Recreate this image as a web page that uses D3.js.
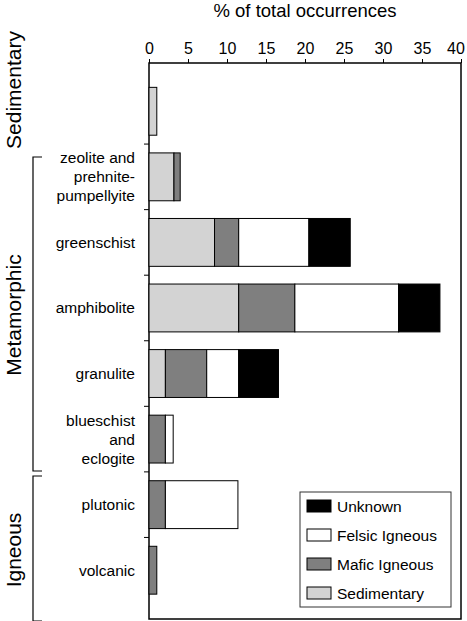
<!DOCTYPE html><html><head><meta charset="utf-8"><script src="https://d3js.org/d3.v7.min.js"></script>
<style>body{margin:0;background:#fff}text{font-family:Arial,"Liberation Sans",sans-serif}</style></head><body><svg id="c" width="467" height="621"></svg><script>
const categories=["sedimentary","zeolite and|prehnite-|pumpellyite","greenschist","amphibolite","granulite","blueschist|and|eclogite","plutonic","volcanic"];
const series=["Sedimentary","Mafic Igneous","Felsic Igneous","Unknown"];
const sedimentary=[1.0,3.2,8.4,11.5,2.1,0,0,0];
const mafic=[0,0.8,3.1,7.2,5.3,2.1,2.1,1.0];
const felsic=[0,0,9.0,13.3,4.1,1.0,9.3,0];
const unknown=[0,0,5.3,5.3,5.1,0,0,0];
const ticks=[0,5,10,15,20,25,30,35,40];
const colors=["#d3d3d3","#7f7f7f","#ffffff","#000000"];
const svg=d3.select("#c");
const x=d3.scaleLinear().domain([0,40]).range([149,461]);
const y=d3.scaleBand().domain(categories).range([78.5,603]).paddingInner(0.27).paddingOuter(0.135);
const vals=[sedimentary,mafic,felsic,unknown];
svg.append("rect").attr("x",149).attr("y",63).attr("width",312).attr("height",556).attr("fill","none").attr("stroke","#000").attr("stroke-width",1.5);
const ax=svg.append("g").attr("transform","translate(0,63)").call(d3.axisTop(x).tickValues(ticks).tickSize(4).tickSizeOuter(0));
ax.select(".domain").remove();
ax.selectAll("text").attr("font-size",16).attr("dy","-0.1em");
ax.selectAll(".tick").filter(d=>d===40).select("text").attr("dx","-0.35em");
svg.append("text").attr("x",305).attr("y",17).attr("text-anchor","middle").attr("font-size",18.5).text("% of total occurrences");
categories.forEach((c,i)=>{if(i>0){const yy=y(c)-y.step()*y.paddingInner()/2;svg.append("line").attr("x1",144).attr("x2",149).attr("y1",yy).attr("y2",yy).attr("stroke","#000");}});
categories.forEach((c,i)=>{let x0=0;vals.forEach((v,s)=>{if(v[i]>0){svg.append("rect").attr("x",x(x0)).attr("y",y(c)).attr("width",x(x0+v[i])-x(x0)).attr("height",y.bandwidth()).attr("fill",colors[s]).attr("stroke","#000").attr("stroke-width",1);x0+=v[i];}});
 if(i>0){const lines=c.split("|");const cy=y(c)+y.bandwidth()/2;const t=svg.append("text").attr("text-anchor","end").attr("font-size",15.5);lines.forEach((l,k)=>t.append("tspan").attr("x",135).attr("y",cy+(k-(lines.length-1)/2)*19+5.5).text(l));}
});
function bracket(y1,y2){svg.append("path").attr("d",`M42,${y1}H33V${y2}H42`).attr("fill","none").attr("stroke","#000").attr("stroke-width",1.2);}
bracket(157,471);bracket(476,621);
function vlabel(t,cy){svg.append("text").attr("transform",`translate(21,${cy}) rotate(-90)`).attr("text-anchor","middle").attr("font-size",21).text(t);}
vlabel("Sedimentary",90);vlabel("Metamorphic",315);vlabel("Igneous",550);
const lg=svg.append("g");
lg.append("rect").attr("x",300).attr("y",492).attr("width",151).attr("height",115).attr("fill","#fff").attr("stroke","#333").attr("stroke-width",1);
const legendOrder=[3,2,1,0];
legendOrder.forEach((s,k)=>{const cy=506+k*29;lg.append("rect").attr("x",307).attr("y",cy-6).attr("width",24).attr("height",12).attr("fill",colors[s]).attr("stroke","#000");
lg.append("text").attr("x",337).attr("y",cy+5.5).attr("font-size",15.5).text(series[s]);});
</script></body></html>
